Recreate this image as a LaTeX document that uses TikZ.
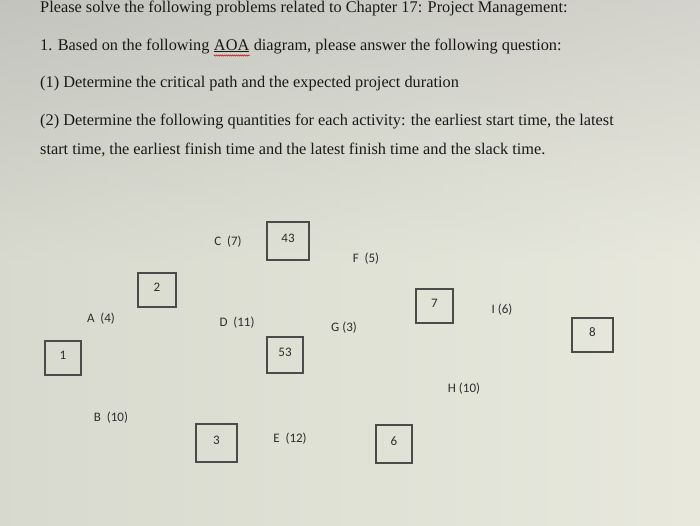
\documentclass[tikz,border=0pt]{standalone}
\usepackage{fontspec}
\setmainfont{Liberation Serif}
\newfontfamily\lblfont{Carlito}
\usetikzlibrary{decorations.pathmorphing}
\definecolor{bgL}{RGB}{206,208,198}
\definecolor{bgM}{RGB}{224,226,214}
\definecolor{bgR}{RGB}{243,241,231}
\definecolor{bgTop}{RGB}{186,186,182}
\definecolor{ink}{RGB}{25,25,25}
\definecolor{boxc}{RGB}{75,75,75}
\definecolor{lblc}{RGB}{45,45,45}
\tikzset{
  hdr/.style={anchor=base west, inner sep=0pt, text=ink, font=\fontsize{16.3}{19}\selectfont},
  evbox/.style={draw=boxc, line width=1.2pt, inner sep=0pt, text=lblc,
     font=\lblfont\fontsize{13}{15}\selectfont, text height=9pt, text depth=7pt},
  actlbl/.style={inner sep=0pt, text=lblc, font=\lblfont\fontsize{13}{15}\selectfont},
}
\begin{document}
\begin{tikzpicture}[x=1pt,y=-1pt]
\useasboundingbox (0,0) rectangle (700,525);
% background
\shade[left color=bgL, right color=bgR, middle color=bgM] (0,0) rectangle (700,525);
\shade[top color=bgTop, bottom color=bgM, middle color=bgM, fill opacity=0.55] (0,0) rectangle (700,525);
% header text
\node[hdr] (t1) at (40,12) {Please solve the following problems related to Chapter 17: Project Management:};
\node[hdr] (t2a) at (40,50) {1. Based on the following\ \null};
\node[hdr] (aoa) at (t2a.base east) {\underline{AOA}};
\node[hdr] (t2b) at (aoa.base east) {\null\ diagram, please answer the following question:};
\draw[red!80!black, line width=0.5pt, decorate, decoration={snake, amplitude=0.6pt, segment length=2pt}]
  ([yshift=-5.5pt]aoa.base west) -- ([yshift=-5.5pt]aoa.base east);
\node[hdr] (t3) at (40,87) {(1) Determine the critical path and the expected project duration};
\node[hdr] (t4) at (40,125) {(2) Determine the following quantities for each activity: the earliest start time, the latest};
\node[hdr] (t5) at (40,154) {start time, the earliest finish time and the latest finish time and the slack time.};
% event boxes
\node[evbox, minimum width=36pt, minimum height=34pt] (n1) at (63,358) {1};
\node[evbox, minimum width=38pt, minimum height=34pt] (n2) at (157,290) {2};
\node[evbox, minimum width=42pt, minimum height=38pt] (n43) at (288,241) {43};
\node[evbox, minimum width=36pt, minimum height=36pt] (n53) at (285,355) {53};
\node[evbox, minimum width=41pt, minimum height=38pt] (n3) at (216.5,443) {3};
\node[evbox, minimum width=36pt, minimum height=38pt] (n6) at (394,444) {6};
\node[evbox, minimum width=37pt, minimum height=34pt] (n7) at (434.5,306) {7};
\node[evbox, minimum width=41pt, minimum height=34pt] (n8) at (592.5,335) {8};
% activity labels
\node[actlbl] (lC) at (228,242) {C\ \ (7)};
\node[actlbl] (lF) at (366,259) {F\ \ (5)};
\node[actlbl] (lA) at (101,319) {A\ \ (4)};
\node[actlbl] (lD) at (237,323) {D\ \ (11)};
\node[actlbl] (lG) at (344,328) {G (3)};
\node[actlbl] (lI) at (502,310) {I (6)};
\node[actlbl] (lH) at (464,389) {H (10)};
\node[actlbl] (lB) at (111,418) {B\ \ (10)};
\node[actlbl] (lE) at (290,439) {E\ \ (12)};
\end{tikzpicture}
\end{document}
